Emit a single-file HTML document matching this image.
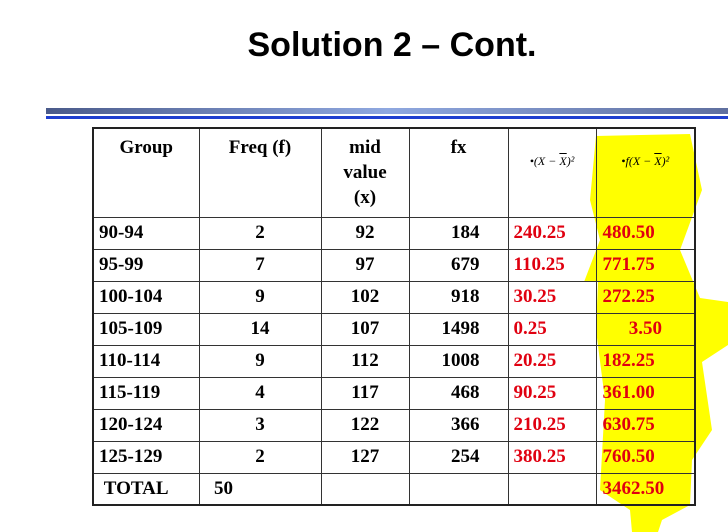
<!DOCTYPE html>
<html><head><meta charset="utf-8"><style>
body{margin:0;width:728px;height:532px;background:#fff;position:relative;overflow:hidden;font-family:"Liberation Serif",serif}
#title{position:absolute;left:0;width:784px;top:26px;text-align:center;font:bold 34px "Liberation Sans",sans-serif;color:#000}
.bar1{position:absolute;left:46px;top:108px;width:682px;height:6px;background:linear-gradient(90deg,#4a5a8a,#8fa8e0 50%,#5f6f9f)}
.bar2{position:absolute;left:46px;top:116px;width:682px;height:3px;background:#1f3fd0}
svg{position:absolute;left:0;top:0}
table{position:absolute;left:92px;top:127px;border-collapse:collapse;border:2px solid #222;table-layout:fixed}
td{border:1.3px solid #333;font-weight:bold;font-size:19px;padding:0 5px;height:32px;box-sizing:border-box;white-space:nowrap}
th{border:1.3px solid #333;font-weight:bold;font-size:19px;vertical-align:top;padding:6px 0 0 0;height:89px;box-sizing:border-box;line-height:25px}
.r{color:#e00010}.c{text-align:center}.rt{text-align:right;padding-right:28px}
.l6{padding-left:6px}.r6{text-align:right;padding-right:32px}
.m{font-weight:normal;font-size:12px;font-style:italic;padding-top:20px}
</style></head><body>
<div id="title">Solution 2 – Cont.</div>
<div class="bar1"></div>
<div class="bar2"></div>
<svg width="728" height="532"><path d="M596 136 L690 134 L702 190 L680 250 L700 298 L728 302 L728 345 L702 362 L712 430 L692 460 L690 505 L662 520 L658 532 L632 532 L630 510 L600 490 L605 400 L596 330 L598 282 L584 282 L600 240 L590 200 Z" fill="#ffff00"/></svg>
<table>
<colgroup><col style="width:106px"><col style="width:122px"><col style="width:88px"><col style="width:99px"><col style="width:88px"><col style="width:99px"></colgroup>
<tr><th>Group</th><th>Freq (f)</th><th>mid<br>value<br>(x)</th><th>fx</th><th class="m">•(<i>X</i> − <span style="text-decoration:overline">X</span>)²</th><th class="m">•<i>f</i>(<i>X</i> − <span style="text-decoration:overline">X</span>)²</th></tr>
<tr><td>90-94</td><td class="c">2</td><td class="c">92</td><td class="rt">184</td><td class="r">240.25</td><td class="r l6">480.50</td></tr>
<tr><td>95-99</td><td class="c">7</td><td class="c">97</td><td class="rt">679</td><td class="r">110.25</td><td class="r l6">771.75</td></tr>
<tr><td>100-104</td><td class="c">9</td><td class="c">102</td><td class="rt">918</td><td class="r">30.25</td><td class="r l6">272.25</td></tr>
<tr><td>105-109</td><td class="c">14</td><td class="c">107</td><td class="rt">1498</td><td class="r">0.25</td><td class="r r6">3.50</td></tr>
<tr><td>110-114</td><td class="c">9</td><td class="c">112</td><td class="rt">1008</td><td class="r">20.25</td><td class="r l6">182.25</td></tr>
<tr><td>115-119</td><td class="c">4</td><td class="c">117</td><td class="rt">468</td><td class="r">90.25</td><td class="r l6">361.00</td></tr>
<tr><td>120-124</td><td class="c">3</td><td class="c">122</td><td class="rt">366</td><td class="r">210.25</td><td class="r l6">630.75</td></tr>
<tr><td>125-129</td><td class="c">2</td><td class="c">127</td><td class="rt">254</td><td class="r">380.25</td><td class="r l6">760.50</td></tr>
<tr><td>&nbsp;TOTAL</td><td>&nbsp;&nbsp;50</td><td></td><td></td><td></td><td class="r l6">3462.50</td></tr>
</table>
</body></html>
